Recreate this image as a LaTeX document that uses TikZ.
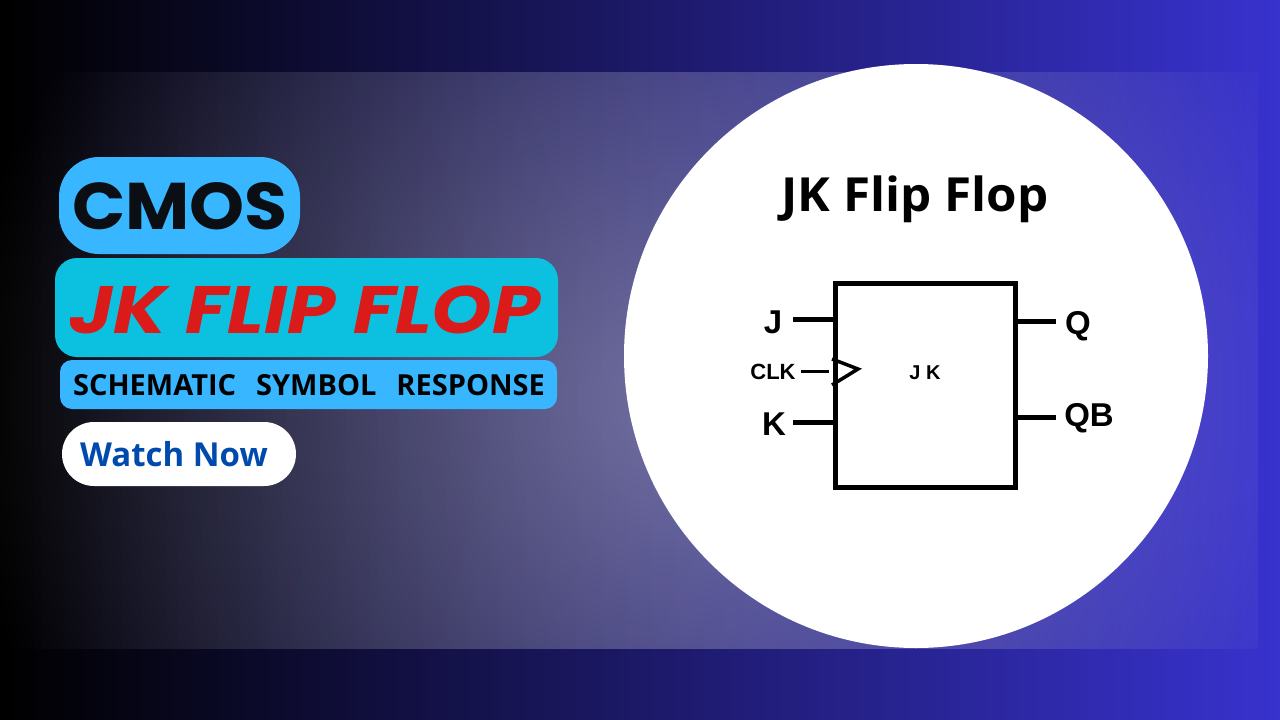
\documentclass[tikz,border=0pt]{standalone}
\usepackage{fontspec}
\setmainfont{Open Sans}
\newfontfamily\popfont[FakeStretch=1.06]{Poppins}
\newfontfamily\popwide[FakeStretch=1.15]{Poppins}
\newfontfamily\headfont[FakeStretch=1.05]{Open Sans}
\newfontfamily\arialfont{Liberation Sans}
\usetikzlibrary{positioning,fadings}
\definecolor{panelblue}{HTML}{38B6FF}
\definecolor{cyanbar}{HTML}{0CC0DF}
\definecolor{flopred}{HTML}{DB1A1A}
\definecolor{watchblue}{HTML}{004AAD}
\definecolor{deepblue}{HTML}{3832CE}
\definecolor{inkblack}{HTML}{0B0F14}
\tikzfading[name=glow,inner color=transparent!63,outer color=transparent!100]
\tikzset{
  wire/.style={line width=5pt,line cap=butt},
  pill/.style={inner sep=0pt,outer sep=0pt},
  pinlabel/.style={font=\arialfont\fontsize{33}{33}\selectfont\bfseries,text=black,inner sep=0pt}
}
\begin{document}
\begin{tikzpicture}[x=1pt,y=-1pt]
\useasboundingbox (0,0) rectangle (1280,720);
\fill[left color=black,right color=deepblue] (0,0) rectangle (1280,720);

% lighter panel
\begin{scope}
\clip (0,72) rectangle (1258,648);
\fill[white,path fading=glow] (665,400) circle (700pt);
\end{scope}

% left side
\node[pill,fill=panelblue,rounded corners=40pt,minimum width=241pt,minimum height=97pt] (cmos) at (179.5,205.5) {};
\node[inner sep=0pt,text=inkblack,font=\popfont\fontsize{66}{66}\selectfont\bfseries] (cmostext) at (180,206) {CMOS};
\node[pill,fill=cyanbar,rounded corners=22pt,minimum width=503pt,minimum height=99pt] (title) at (306.5,307.5) {};
\node[inner sep=0pt,text=flopred,font=\popwide\fontsize{67}{67}\selectfont\bfseries\itshape] (titletext) at (305,310) {JK FLIP FLOP};
\node[pill,fill=panelblue,rounded corners=12pt,minimum width=497pt,minimum height=49pt] (sub) at (308.5,384.5) {};
\node[inner sep=0pt,text=black,font=\fontsize{29}{29}\selectfont\bfseries] (subtext) at (309,385) {SCHEMATIC\hspace{20pt}SYMBOL\hspace{20pt}RESPONSE};
\node[pill,fill=white,rounded corners=32pt,minimum width=234pt,minimum height=64pt] (watch) at (179,454) {};
\node[inner sep=0pt,text=watchblue,font=\fontsize{33}{33}\selectfont\bfseries] (watchtext) at (174,454) {Watch Now};

% right side
\node[circle,fill=white,inner sep=0pt,minimum size=584pt] (disc) at (916,356) {};
\node[inner sep=0pt,anchor=base,text=black,font=\headfont\fontsize{47}{47}\selectfont\bfseries] (head) at (915,211) {JK Flip Flop};

\node[draw=black,line width=5pt,inner sep=0pt,minimum width=180pt,minimum height=204pt] (ff) at (925,385) {};
\node[inner sep=0pt,font=\arialfont\fontsize{20}{20}\selectfont\bfseries] (jk) at (925,373) {J K};

\node[pinlabel] (j) at (773,322) {J};
\node[pinlabel] (k) at (774,424) {K};
\node[pinlabel] (q) at (1078,326) {Q};
\node[pinlabel] (qb) at (1089,418) {QB};
\node[inner sep=0pt,font=\arialfont\fontsize{22}{22}\selectfont\bfseries] (clk) at (773,372) {CLK};

\coordinate (jend) at (793,319);
\coordinate (kend) at (793,422);
\coordinate (qend) at (1056,321);
\coordinate (qbend) at (1056,417);
\coordinate (clkend) at (801,371);
\coordinate (clktip) at (829,371);
\coordinate (triup) at (832,359);
\coordinate (trimid) at (858,369);
\coordinate (tridown) at (832,385);

\draw[wire] (jend) -- (jend -| ff.west);
\draw[wire] (kend) -- (kend -| ff.west);
\draw[wire] (qend) -- (qend -| ff.east);
\draw[wire] (qbend) -- (qbend -| ff.east);
\draw[line width=3pt] (clkend) -- (clktip);
\draw[line width=3.5pt] (triup) -- (trimid) -- (tridown);
\end{tikzpicture}
\end{document}
